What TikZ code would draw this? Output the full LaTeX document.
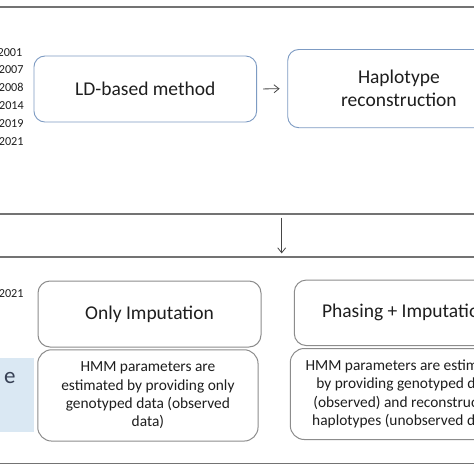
\documentclass[tikz,border=0pt]{standalone}
\usepackage{fontspec}
\setmainfont{Carlito}
\usetikzlibrary{arrows.meta}
\definecolor{txt}{RGB}{30,30,30}
\definecolor{bluebd}{RGB}{125,155,195}
\definecolor{graybd}{RGB}{140,140,140}
\definecolor{framec}{RGB}{115,115,115}
\definecolor{lightblue}{RGB}{218,232,243}
\definecolor{etxt}{RGB}{55,65,85}
\definecolor{arrowc}{RGB}{70,70,70}
\tikzset{
  frame/.style={draw=framec, line width=1.8pt, rectangle, inner sep=0pt, minimum width=540pt},
  topbox/.style={draw=bluebd, line width=0.9pt, rounded corners=11pt, inner sep=0pt, align=center,
     font=\fontsize{19.5}{23}\selectfont, text=txt},
  titlebox/.style={draw=graybd, line width=1pt, rounded corners=12pt, inner sep=0pt, align=center,
     font=\fontsize{19.5}{23}\selectfont, text=txt},
  descbox/.style={draw=graybd, line width=1pt, rounded corners=14pt, inner sep=0pt, align=center,
     font=\fontsize{15.4}{18.3}\selectfont, text=txt},
  year/.style={anchor=east, inner sep=0pt, font=\fontsize{12.2}{14}\selectfont, text=txt},
  conn/.style={draw=arrowc, line width=0.8pt, -{Straight Barb[length=5pt,width=8pt]}},
}
\begin{document}
\begin{tikzpicture}[x=1pt,y=-1pt]
\useasboundingbox (0,0) rectangle (474,474);
\clip (0,0) rectangle (474,474);
\fill[white] (0,0) rectangle (474,474);
% frames
\node[frame, minimum height=207.3pt] (topframe) at (237,110.35) {};
\node[frame, minimum height=206.8pt] (botframe) at (237,360.1) {};
% years (top)
\node[year] (y1) at (22.5,52.5) {2001};
\node[year] (y2) at (23.8,69.8) {2007};
\node[year] (y3) at (23.8,87.6) {2008};
\node[year] (y4) at (24.0,105.8) {2014};
\node[year] (y5) at (23.8,124) {2019};
\node[year] (y6) at (23.8,141.8) {2021};
% top boxes
\node[topbox, minimum width=222.7pt, minimum height=66pt] (ld) at (145.3,89) {LD-based method};
\node[topbox, minimum width=222.3pt, minimum height=78.2pt] (hap) at (398.9,88.6) {Haplotype\\reconstruction};
\draw[conn, shorten <=6pt, shorten >=7.7pt] (ld.east) -- (hap.west);
% vertical arrow
\coordinate (ax) at (281.7,0);
\draw[conn, shorten <=2.7pt, shorten >=2.4pt] (topframe.south -| ax) -- (botframe.north -| ax);
% bottom
\node[year] (y7) at (23.8,294) {2021};
\fill[lightblue] (-5,358.3) rectangle (33.5,431.7);
\node[anchor=base east, inner sep=0pt, font=\fontsize{23}{26}\selectfont, text=etxt] (etext) at (15.8,383.5) {e};
\node[titlebox, minimum width=223pt, minimum height=66pt] (only) at (149.5,314) {Only Imputation};
\node[descbox, minimum width=220.3pt, minimum height=91.3pt] (hmm1) at (147.9,395.4)
  {HMM parameters are\\estimated by providing only\\genotyped data (observed\\data)};
\node[titlebox, minimum width=223pt, minimum height=65.5pt] (phase) at (405.8,312.8) {Phasing + Imputation};
\node[descbox, minimum width=231pt, minimum height=91pt] (hmm2) at (405.8,394)
  {HMM parameters are estimated\\by providing genotyped data\\(observed) and reconstructed\\haplotypes (unobserved data)};
\end{tikzpicture}
\end{document}
